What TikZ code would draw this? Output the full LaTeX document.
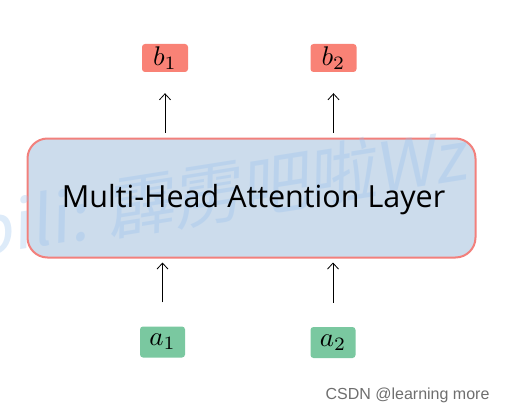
\documentclass[tikz,border=0pt]{standalone}
\usepackage{graphicx}
\usepackage{fontspec}
\setmainfont{Open Sans}
\newfontfamily\cjkfont{Noto Sans CJK SC}
\newfontfamily\csdnfont{Liberation Sans}
\usetikzlibrary{arrows.meta}
\definecolor{bfill}{RGB}{249,130,118}
\definecolor{afill}{RGB}{122,200,160}
\definecolor{mainfill}{RGB}{204,220,236}
\definecolor{mainborder}{RGB}{242,128,124}
\definecolor{wmark}{RGB}{150,192,236}
\definecolor{csdngray}{RGB}{110,110,110}
\tikzset{
  x=1pt, y=-1pt,
  outbox/.style={fill=bfill, rounded corners=3pt, minimum width=46pt, minimum height=28pt, inner sep=0pt},
  inbox/.style={fill=afill, rounded corners=3pt, minimum width=45pt, minimum height=31pt, inner sep=0pt},
  layer/.style={fill=mainfill, draw=mainborder, line width=2pt, rounded corners=20pt, minimum width=448pt, minimum height=119pt, inner sep=0pt},
  uparrow/.style={-{Straight Barb[length=6pt,width=11pt]}, line width=0.8pt, black}
}
\newcommand{\biglabel}[1]{\scalebox{2.7}{$#1$}}
\begin{document}
\begin{tikzpicture}
\useasboundingbox (0,0) rectangle (509,412);
\node[layer] (L) at (251.5,198) {};
\begin{scope}
\clip (0,0) rectangle (509,412);
\node[anchor=base west, text=wmark, opacity=0.32, rotate=9, xslant=0.18, font=\cjkfont\fontsize{68}{68}\selectfont] (W) at (-30,258) {bili: 霹雳吧啦Wz};
\end{scope}
\node[font=\fontsize{30.5}{30.5}\selectfont] (T) at (253.5,200) {Multi-Head Attention Layer};
\node[outbox] (b1) at (165,58) {\biglabel{b_1}};
\node[outbox] (b2) at (333.5,58) {\biglabel{b_2}};
\node[inbox] (a1) at (162.5,342) {\biglabel{a_1}};
\node[inbox] (a2) at (333,342.5) {\biglabel{a_2}};
\draw[uparrow, shorten <=5pt, shorten >=21pt] (b1.south |- L.north) -- (b1.south);
\draw[uparrow, shorten <=5pt, shorten >=21pt] (b2.south |- L.north) -- (b2.south);
\draw[uparrow, shorten <=24pt, shorten >=4pt] (a1.north) -- (a1.north |- L.south);
\draw[uparrow, shorten <=24pt, shorten >=4pt] (a2.north) -- (a2.north |- L.south);
\node[anchor=base east, text=csdngray, font=\csdnfont\fontsize{16}{16}\selectfont] (C) at (493,399) {CSDN @learning more};
\end{tikzpicture}
\end{document}
